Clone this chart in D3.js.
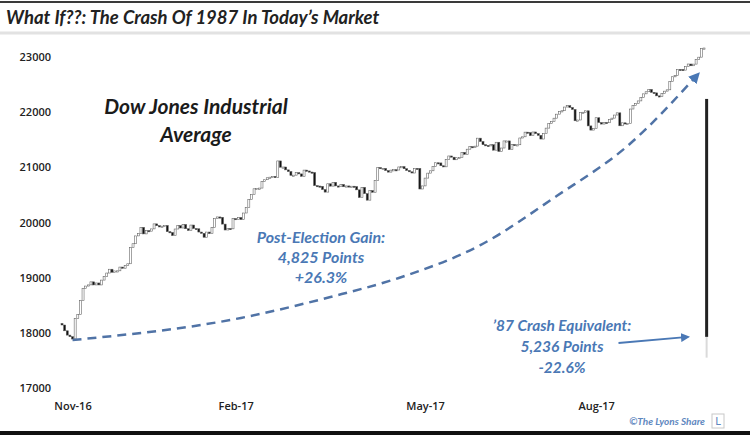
<!DOCTYPE html>
<html>
<head>
<meta charset="utf-8">
<script src="https://cdn.jsdelivr.net/npm/d3@7"></script>
<style>
  body { margin: 0; background: #fff; }
  svg  { display: block; }
</style>
</head>
<body>
<div id="chart_container"></div>
<script>
// Dow Jones Industrial Average, daily closes, one entry per trading day (Oct 31 2016 -> Oct 19 2017).
var dow_open_first = 18170;
var dow_close_oct16 = [18142];
var dow_close_nov16 = [18037, 17959, 17930, 17888, 18260, 18332, 18590, 18808, 18848, 18869, 18924, 18868, 18904, 18868, 18956, 19024, 19084, 19153, 19098, 19122, 19124];
var dow_close_dec16 = [19192, 19171, 19217, 19252, 19549, 19615, 19757, 19797, 19912, 19793, 19853, 19843, 19884, 19975, 19942, 19919, 19934, 19946, 19834, 19819, 19763];
var dow_close_jan17 = [19882, 19943, 19900, 19964, 19887, 19856, 19954, 19891, 19886, 19827, 19804, 19733, 19827, 19799, 19913, 20069, 20101, 20094, 19971, 19864];
var dow_close_feb17 = [19891, 19885, 20071, 20052, 20090, 20054, 20172, 20269, 20413, 20504, 20611, 20620, 20624, 20744, 20775, 20811, 20822, 20837, 20812];
var dow_close_mar17 = [21116, 21002, 21006, 20954, 20924, 20855, 20858, 20903, 20881, 20837, 20950, 20934, 20915, 20906, 20669, 20661, 20656, 20597, 20551, 20702, 20659, 20729, 20663];
var dow_close_apr17 = [20651, 20690, 20648, 20663, 20656, 20658, 20651, 20592, 20453, 20637, 20523, 20405, 20579, 20548, 20763, 20996, 20976, 20981, 20941];
var dow_close_may17 = [20913, 20950, 20957, 20951, 21007, 21013, 20975, 20943, 20919, 20897, 20982, 20980, 20607, 20663, 20805, 20895, 20937, 21012, 21083, 21080, 21029, 21009];
var dow_close_jun17 = [21144, 21206, 21184, 21137, 21174, 21182, 21272, 21236, 21329, 21375, 21360, 21384, 21529, 21468, 21411, 21397, 21395, 21410, 21311, 21455, 21288, 21350];
var dow_close_jul17 = [21479, 21479, 21320, 21414, 21409, 21409, 21532, 21553, 21638, 21630, 21575, 21641, 21611, 21580, 21513, 21613, 21711, 21797, 21830, 21891];
var dow_close_aug17 = [21964, 22016, 22026, 22093, 22118, 22085, 22049, 21844, 21858, 21993, 21999, 22025, 21751, 21675, 21703, 21899, 21812, 21784, 21814, 21808, 21865, 21892, 21948];
var dow_close_sep17 = [21988, 21753, 21807, 21785, 21798, 22057, 22119, 22158, 22204, 22268, 22332, 22370, 22412, 22359, 22350, 22296, 22284, 22341, 22381, 22405];
var dow_close_oct17 = [22557, 22642, 22662, 22775, 22774, 22762, 22831, 22873, 22841, 22871, 22957, 22997, 23157, 23163];

var y_tick_values  = [17000, 18000, 19000, 20000, 21000, 22000, 23000];
var x_tick_index   = [4, 66, 138, 203];
var x_tick_labels  = ["Nov-16", "Feb-17", "May-17", "Aug-17"];

// Annotations, in data units (trading-day index, index level).
var gain_curve     = [[4, 17870], [68, 18270], [102, 18650], [128, 18995], [159, 19590], [188, 20480], [215, 21390], [241, 22650]];
var crash_arrow    = [[211.5, 17816], [238, 17925]];
var crash_bar      = { index: 245, top: 22240, bottom: 17927, low: 17550 };

var chart_dimension = { height: 436, width: 750 };
var color_blue      = "#4a78b5";
var color_dash      = "#5073a6";

var dow_close = [].concat(dow_close_oct16, dow_close_nov16, dow_close_dec16, dow_close_jan17, dow_close_feb17,
  dow_close_mar17, dow_close_apr17, dow_close_may17, dow_close_jun17, dow_close_jul17, dow_close_aug17,
  dow_close_sep17, dow_close_oct17);

var candle_array = dow_close.map(function (c, i) {
  return { index: i, open: i === 0 ? dow_open_first : dow_close[i - 1], close: c };
});

var scale_x = d3.scaleLinear().domain([0, dow_close.length - 1]).range([62, 704]);
var scale_y = d3.scaleLinear().domain([17000, 23000]).range([388, 57]);

var chart_svg = d3.select("#chart_container").append("svg")
  .attr("height", chart_dimension.height)
  .attr("width", chart_dimension.width);

var defs = chart_svg.append("defs");
defs.append("marker")
  .attr("id", "arrow_dash")
  .attr("viewBox", "0 0 10 10")
  .attr("refX", 5).attr("refY", 5)
  .attr("markerWidth", 4.5).attr("markerHeight", 4.5)
  .attr("markerUnits", "strokeWidth")
  .attr("orient", "auto")
  .append("path").attr("d", "M0,0 L10,5 L0,10 z").style("fill", color_blue);
defs.append("marker")
  .attr("id", "arrow_solid")
  .attr("viewBox", "0 0 10 10")
  .attr("refX", 8).attr("refY", 5)
  .attr("markerWidth", 5).attr("markerHeight", 5)
  .attr("markerUnits", "strokeWidth")
  .attr("orient", "auto")
  .append("path").attr("d", "M0,0 L10,5 L0,10 z").style("fill", color_blue);

// Frame lines.
chart_svg.append("line").attr("x1", 0).attr("x2", 750).attr("y1", 2).attr("y2", 2)
  .style("stroke", "#3a3a3a").style("stroke-width", 2);
chart_svg.append("line").attr("x1", 0).attr("x2", 750).attr("y1", 33).attr("y2", 33)
  .style("stroke", "#e2e2e2").style("stroke-width", 3);
chart_svg.append("line").attr("x1", 0).attr("x2", 750).attr("y1", 433).attr("y2", 433)
  .style("stroke", "#111").style("stroke-width", 4);

chart_svg.append("text")
  .attr("x", 6).attr("y", 24)
  .style("font-family", "Lato, 'Open Sans', sans-serif")
  .style("font-size", "18.5px").style("font-style", "italic").style("font-weight", "bold")
  .style("fill", "#222")
  .text("What If??: The Crash Of 1987 In Today\u2019s Market");

// Axes.
var axis_y = chart_svg.append("g")
  .attr("transform", "translate(51,0)")
  .call(d3.axisLeft(scale_y).tickValues(y_tick_values).tickFormat(d3.format("d")).tickSize(0).tickPadding(0));
var axis_x = chart_svg.append("g")
  .attr("transform", "translate(0,402)")
  .call(d3.axisBottom(scale_x).tickValues(x_tick_index).tickFormat(function (d, i) { return x_tick_labels[i]; }).tickSize(0).tickPadding(0));
[axis_y, axis_x].forEach(function (g) {
  g.select(".domain").remove();
  g.selectAll("text")
    .style("font-family", "'Open Sans', sans-serif")
    .style("font-size", "11px").style("font-weight", "600")
    .style("fill", "#222");
});

// Candles.
chart_svg.selectAll(".dow_candle").data(candle_array).enter().append("rect")
  .attr("class", "dow_candle")
  .attr("x", function (d) { return scale_x(d.index) - 1; })
  .attr("width", 2)
  .attr("y", function (d) { return scale_y(Math.max(d.open, d.close)); })
  .attr("height", function (d) { return Math.max(1.2, Math.abs(scale_y(d.open) - scale_y(d.close))); })
  .style("fill", function (d) { return d.close >= d.open ? "#fff" : "#111"; })
  .style("stroke", "#5a5a5a")
  .style("stroke-width", 0.55);

// Post-election gain curve.
var line_gen = d3.line()
  .x(function (d) { return scale_x(d[0]); })
  .y(function (d) { return scale_y(d[1]); })
  .curve(d3.curveMonotoneX);
chart_svg.append("path")
  .attr("d", line_gen(gain_curve))
  .attr("marker-end", "url(#arrow_dash)")
  .style("fill", "none")
  .style("stroke", color_dash)
  .style("stroke-width", 2.5)
  .style("stroke-dasharray", "9,6");

// Crash bar.
chart_svg.append("line")
  .attr("x1", scale_x(crash_bar.index)).attr("x2", scale_x(crash_bar.index))
  .attr("y1", scale_y(crash_bar.bottom)).attr("y2", scale_y(crash_bar.low))
  .style("stroke", "#dadada").style("stroke-width", 2);
chart_svg.append("line")
  .attr("x1", scale_x(crash_bar.index)).attr("x2", scale_x(crash_bar.index))
  .attr("y1", scale_y(crash_bar.top)).attr("y2", scale_y(crash_bar.bottom))
  .style("stroke", "#222").style("stroke-width", 3);

chart_svg.append("line")
  .attr("x1", scale_x(crash_arrow[0][0])).attr("y1", scale_y(crash_arrow[0][1]))
  .attr("x2", scale_x(crash_arrow[1][0])).attr("y2", scale_y(crash_arrow[1][1]))
  .attr("marker-end", "url(#arrow_solid)")
  .style("stroke", color_blue).style("stroke-width", 1.8);

// Text annotations.
function add_text_block (lines, cx, cy, step, size, color) {
  lines.forEach(function (t, i) {
    chart_svg.append("text")
      .attr("x", cx).attr("y", cy + i * step)
      .attr("text-anchor", "middle")
      .attr("dominant-baseline", "central")
      .style("font-family", "Lato, 'Open Sans', sans-serif")
      .style("font-size", size + "px").style("font-style", "italic").style("font-weight", "bold")
      .style("fill", color)
      .text(t);
  });
}
add_text_block(["Dow Jones Industrial", "Average"], 196, 105, 28, 21, "#1b1b1b");
add_text_block(["Post-Election Gain:", "4,825 Points", "+26.3%"], 321, 236, 20, 16, color_blue);
add_text_block(["\u201987 Crash Equivalent:", "5,236 Points", "-22.6%"], 562, 325, 21, 15.5, color_blue);

// Credit.
chart_svg.append("text")
  .attr("x", 705).attr("y", 425)
  .attr("text-anchor", "end")
  .style("font-family", "Lato, 'Open Sans', sans-serif")
  .style("font-size", "10px").style("font-style", "italic").style("font-weight", "bold")
  .style("fill", "#5f88c0")
  .text("\u00a9The Lyons Share");
chart_svg.append("rect")
  .attr("x", 712).attr("y", 414).attr("width", 12).attr("height", 14)
  .style("fill", "#fff").style("stroke", "#c8c8c8").style("stroke-width", 1);
chart_svg.append("text")
  .attr("x", 718).attr("y", 425)
  .attr("text-anchor", "middle")
  .style("font-family", "Lato, sans-serif")
  .style("font-size", "11px")
  .style("fill", "#5f88c0")
  .text("L");
</script>
</body>
</html>
